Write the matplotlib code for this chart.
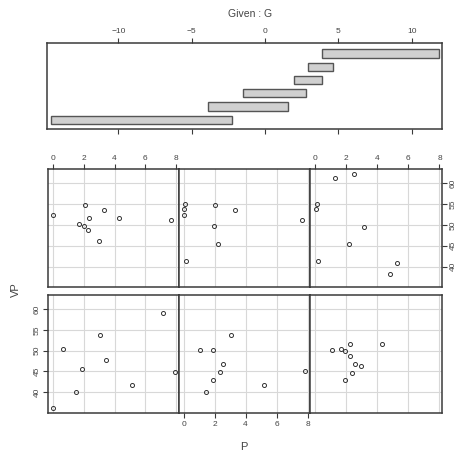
import matplotlib.pyplot as plt

plt.rcParams['font.family'] = ['Liberation Sans', 'DejaVu Sans']

W, H = 474, 457

# given intervals of G, one bar per panel (bottom bar = panel 1)
g_lo = [-14.6, -3.86, -1.48, 1.98, 2.95, 3.91]
g_hi = [-2.23, 1.59, 2.77, 3.89, 4.66, 11.84]
g_ticks = [-10, -5, 0, 5, 10]

# P / VP per panel, panel 1 = bottom-left ... panel 6 = top-right
p1 = [0.03, 0.63, 1.49, 1.9, 3.07, 3.47, 5.16, 7.16, 7.92]
vp1 = [36.1, 50.5, 40.0, 45.5, 53.7, 47.8, 41.8, 59.1, 44.9]
p2 = [1.08, 1.92, 3.06, 2.52, 2.33, 1.88, 1.42, 5.17, 7.85]
vp2 = [50.2, 50.1, 53.7, 46.9, 44.8, 43.0, 40.1, 41.8, 45.0]
p3 = [1.1, 1.66, 1.96, 2.28, 4.28, 2.28, 2.58, 2.97, 2.37, 1.92]
vp3 = [50.2, 50.4, 50.0, 51.7, 51.7, 48.8, 46.8, 46.2, 44.7, 42.9]
p4 = [0.0, 2.05, 3.34, 2.31, 4.27, 1.66, 2.03, 2.27, 3.0, 7.68]
vp4 = [52.3, 54.7, 53.7, 51.75, 51.75, 50.3, 49.8, 48.9, 46.2, 51.1]
p5 = [0.08, 0.0, 0.0, 2.05, 3.32, 1.98, 2.2, 0.17, 7.65]
vp5 = [55.0, 53.8, 52.3, 54.7, 53.7, 49.8, 45.4, 41.3, 51.1]
p6 = [1.29, 2.48, 0.11, 0.04, 3.15, 2.2, 0.19, 5.26, 4.8]
vp6 = [61.3, 62.3, 55.0, 53.8, 49.4, 45.4, 41.3, 40.8, 38.3]

p_ticks = [0, 2, 4, 6, 8]
vp_ticks = [40, 45, 50, 55, 60]

edge = '#3a3a3a'
txt = '#444444'


def box(x0, y0, x1, y1):
    # pixel box (top-left origin) -> figure fraction
    return [x0 / W, 1 - y1 / H, (x1 - x0) / W, (y1 - y0) / H]


fig = plt.figure(figsize=(W / 100, H / 100), dpi=100)

# given panel
ax = fig.add_axes(box(47.3, 42.7, 442.3, 129))
for i in range(6):
    ax.barh(i + 1, g_hi[i] - g_lo[i], left=g_lo[i], height=0.62,
            color='#d0d0d0', edgecolor='#555555', linewidth=1.0)
ax.set_xlim(-14.84, 12.09)
ax.set_ylim(0.31, 6.81)
ax.set_yticks([])
ax.set_xticks(g_ticks)
ax.tick_params(axis='x', top=True, bottom=True, labeltop=True, labelbottom=False,
               direction='out', length=3.5, width=0.8, color=edge,
               labelsize=6, labelcolor=txt, pad=2)
for s in ax.spines.values():
    s.set_color(edge)
    s.set_linewidth(1.1)
fig.text(250 / W, 1 - 14 / H, 'Given : G', ha='center', va='center',
         fontsize=7.5, color=txt)

cols = [(48.3, 179), (179, 310.3), (310.3, 442.3)]
rows = [(295, 413), (169.3, 287.3)]
data = [(p1, vp1), (p2, vp2), (p3, vp3), (p4, vp4), (p5, vp5), (p6, vp6)]

for k, (px, py) in enumerate(data):
    r, c = divmod(k, 3)
    x0, x1 = cols[c]
    y0, y1 = rows[r]
    ax = fig.add_axes(box(x0, y0, x1, y1))
    ax.set_xlim(-0.3, 8.18)
    ax.set_ylim(35.0, 63.4)
    ax.set_xticks(p_ticks)
    ax.set_yticks(vp_ticks)
    ax.grid(True, color='#d8d8d8', linewidth=0.8)
    ax.set_axisbelow(True)
    ax.plot(px, py, 'o', markersize=2.9, markerfacecolor='none',
            markeredgecolor='#333333', markeredgewidth=0.7)
    for s in ax.spines.values():
        s.set_color(edge)
        s.set_linewidth(1.1)
    # which sides carry ticks (R coplot alternates them)
    top = k in (3, 5)
    bottom = k == 1
    left = k == 0
    right = k == 5
    ax.tick_params(axis='x', top=top, bottom=bottom, labeltop=top, labelbottom=bottom,
                   direction='out', length=3.5, width=0.8, color=edge,
                   labelsize=6, labelcolor=txt, pad=2)
    ax.tick_params(axis='y', left=left, right=right, labelleft=left, labelright=right,
                   direction='out', length=3.5, width=0.8, color=edge,
                   labelsize=6, labelcolor=txt, pad=2)
    for lab in ax.get_yticklabels():
        lab.set_rotation(90)
        lab.set_va('center')

fig.text(16 / W, 1 - 290 / H, 'VP', ha='center', va='center', rotation=90,
         fontsize=8, color=txt)
fig.text(244 / W, 1 - 447 / H, 'P', ha='center', va='center',
         fontsize=8, color=txt)

fig.savefig('out.png', dpi=100)
